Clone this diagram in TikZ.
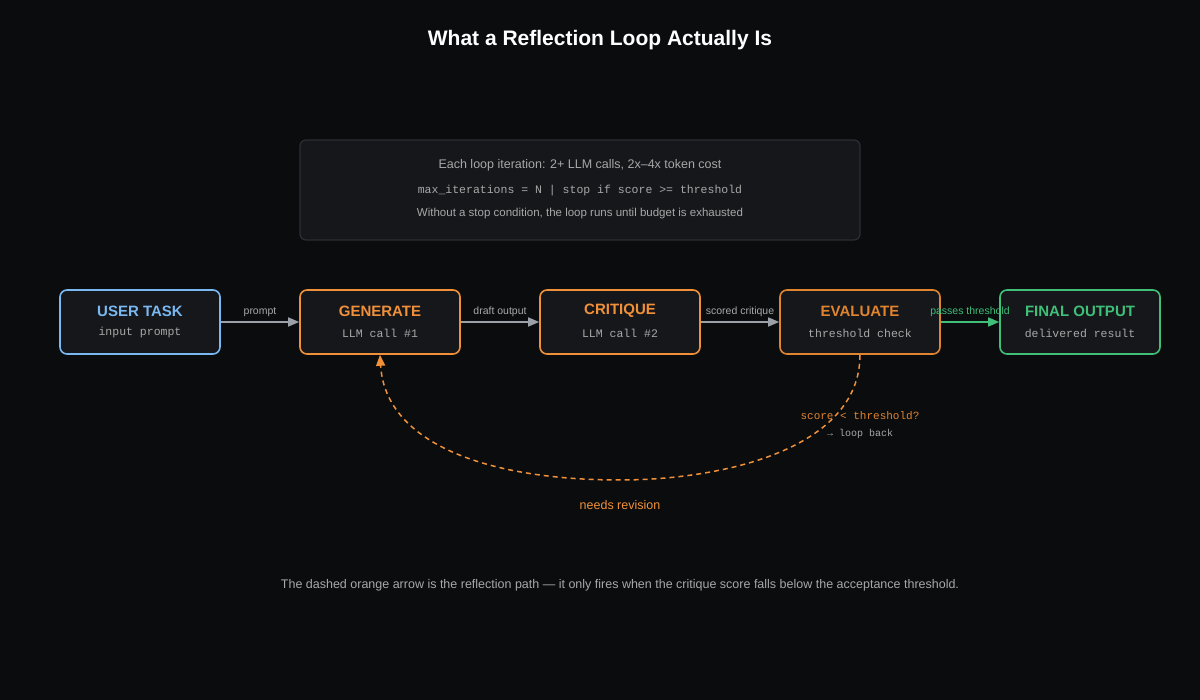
\documentclass[tikz,border=0pt]{standalone}
\usepackage{fontspec}
\setmainfont{Liberation Sans}
\setmonofont{Liberation Mono}
\usetikzlibrary{arrows.meta}
\definecolor{bg}{HTML}{0B0C0E}
\definecolor{boxbg}{HTML}{16171B}
\definecolor{cblue}{HTML}{79B8F0}
\definecolor{corange}{HTML}{F0913A}
\definecolor{cdorange}{HTML}{E0842F}
\definecolor{cgreen}{HTML}{3FBF78}
\definecolor{cgray}{HTML}{A8A8A8}
\definecolor{cline}{HTML}{9CA0A8}
\definecolor{ibord}{HTML}{2C2E33}
\begin{document}
\begin{tikzpicture}[x=1pt,y=-1pt,
  box/.style={draw,line width=1.6pt,rounded corners=7pt,fill=boxbg,minimum width=160pt,minimum height=64pt,inner sep=0pt},
  ttl/.style={font=\fontsize{15}{17}\selectfont\bfseries},
  sub/.style={font=\ttfamily\fontsize{11.5}{13}\selectfont,text=cgray},
  lab/.style={font=\fontsize{10.5}{12}\selectfont,text=cgray},
  arr/.style={line width=1.5pt,draw=cline,-{Triangle[length=11pt,width=9pt]}}]
\fill[bg] (0,0) rectangle (1200,700);
\useasboundingbox (0,0) rectangle (1200,700);
\node[font=\fontsize{21}{24}\selectfont\bfseries,text=white] (title) at (600,40) {What a Reflection Loop Actually Is};
\node[draw=ibord,line width=1.2pt,fill=boxbg,rounded corners=6pt,minimum width=560pt,minimum height=100pt] (info) at (580,190) {};
\node[font=\fontsize{12.5}{14}\selectfont,text=cgray] (i1) at (580,165) {Each loop iteration: 2+ LLM calls, 2x–4x token cost};
\node[font=\ttfamily\fontsize{11.5}{13}\selectfont,text=cgray] (i2) at (580,191) {max\_iterations = N | stop if score >= threshold};
\node[font=\fontsize{11.5}{13}\selectfont,text=cgray] (i3) at (580,214) {Without a stop condition, the loop runs until budget is exhausted};

\node[box,draw=cblue] (user) at (140,322) {};
\node[ttl,text=cblue] at (140,311) {USER TASK};
\node[sub] at (140,333) {input prompt};
\node[box,draw=corange] (gen) at (380,322) {};
\node[ttl,text=corange] at (380,311) {GENERATE};
\node[sub] at (380,333) {LLM call \#1};
\node[box,draw=corange] (crit) at (620,322) {};
\node[ttl,text=corange] at (620,311) {CRITIQUE};
\node[sub] at (620,333) {LLM call \#2};
\node[box,draw=cdorange] (eval) at (860,322) {};
\node[ttl,text=cdorange] at (860,311) {EVALUATE};
\node[sub] at (860,333) {threshold check};
\node[box,draw=cgreen] (fin) at (1080,322) {};
\node[ttl,text=cgreen] at (1080,311) {FINAL OUTPUT};
\node[sub] at (1080,333) {delivered result};

\draw[arr] (user) -- node[lab,above=1pt]{prompt} (gen);
\draw[arr] (gen) -- node[lab,above=1pt]{draft output} (crit);
\draw[arr] (crit) -- node[lab,above=1pt]{scored critique} (eval);
\draw[arr,draw=cgreen] (eval) -- node[lab,above=1pt,text=cgreen]{passes threshold} (fin);

\coordinate (mid) at (620,480);
\draw[line width=1.5pt,draw=corange,dashed,dash pattern=on 5pt off 4pt,-{Triangle[length=11pt,width=9pt]}]
  (eval.south) .. controls (860,450) and (720,480) .. (mid) .. controls (480,480) and (385,440) .. (gen.south);
\node[font=\ttfamily\fontsize{11}{13}\selectfont,text=cdorange] (sc) at (860,416) {score < threshold?};
\node[font=\ttfamily\fontsize{10}{12}\selectfont,text=cgray] (lb) at (860,434) {→ loop back};
\node[font=\fontsize{12.5}{14}\selectfont,text=corange] (nr) at (620,505) {needs revision};
\node[font=\fontsize{12.5}{14}\selectfont,text=cgray] (foot) at (620,585) {The dashed orange arrow is the reflection path — it only fires when the critique score falls below the acceptance threshold.};
\end{tikzpicture}
\end{document}
